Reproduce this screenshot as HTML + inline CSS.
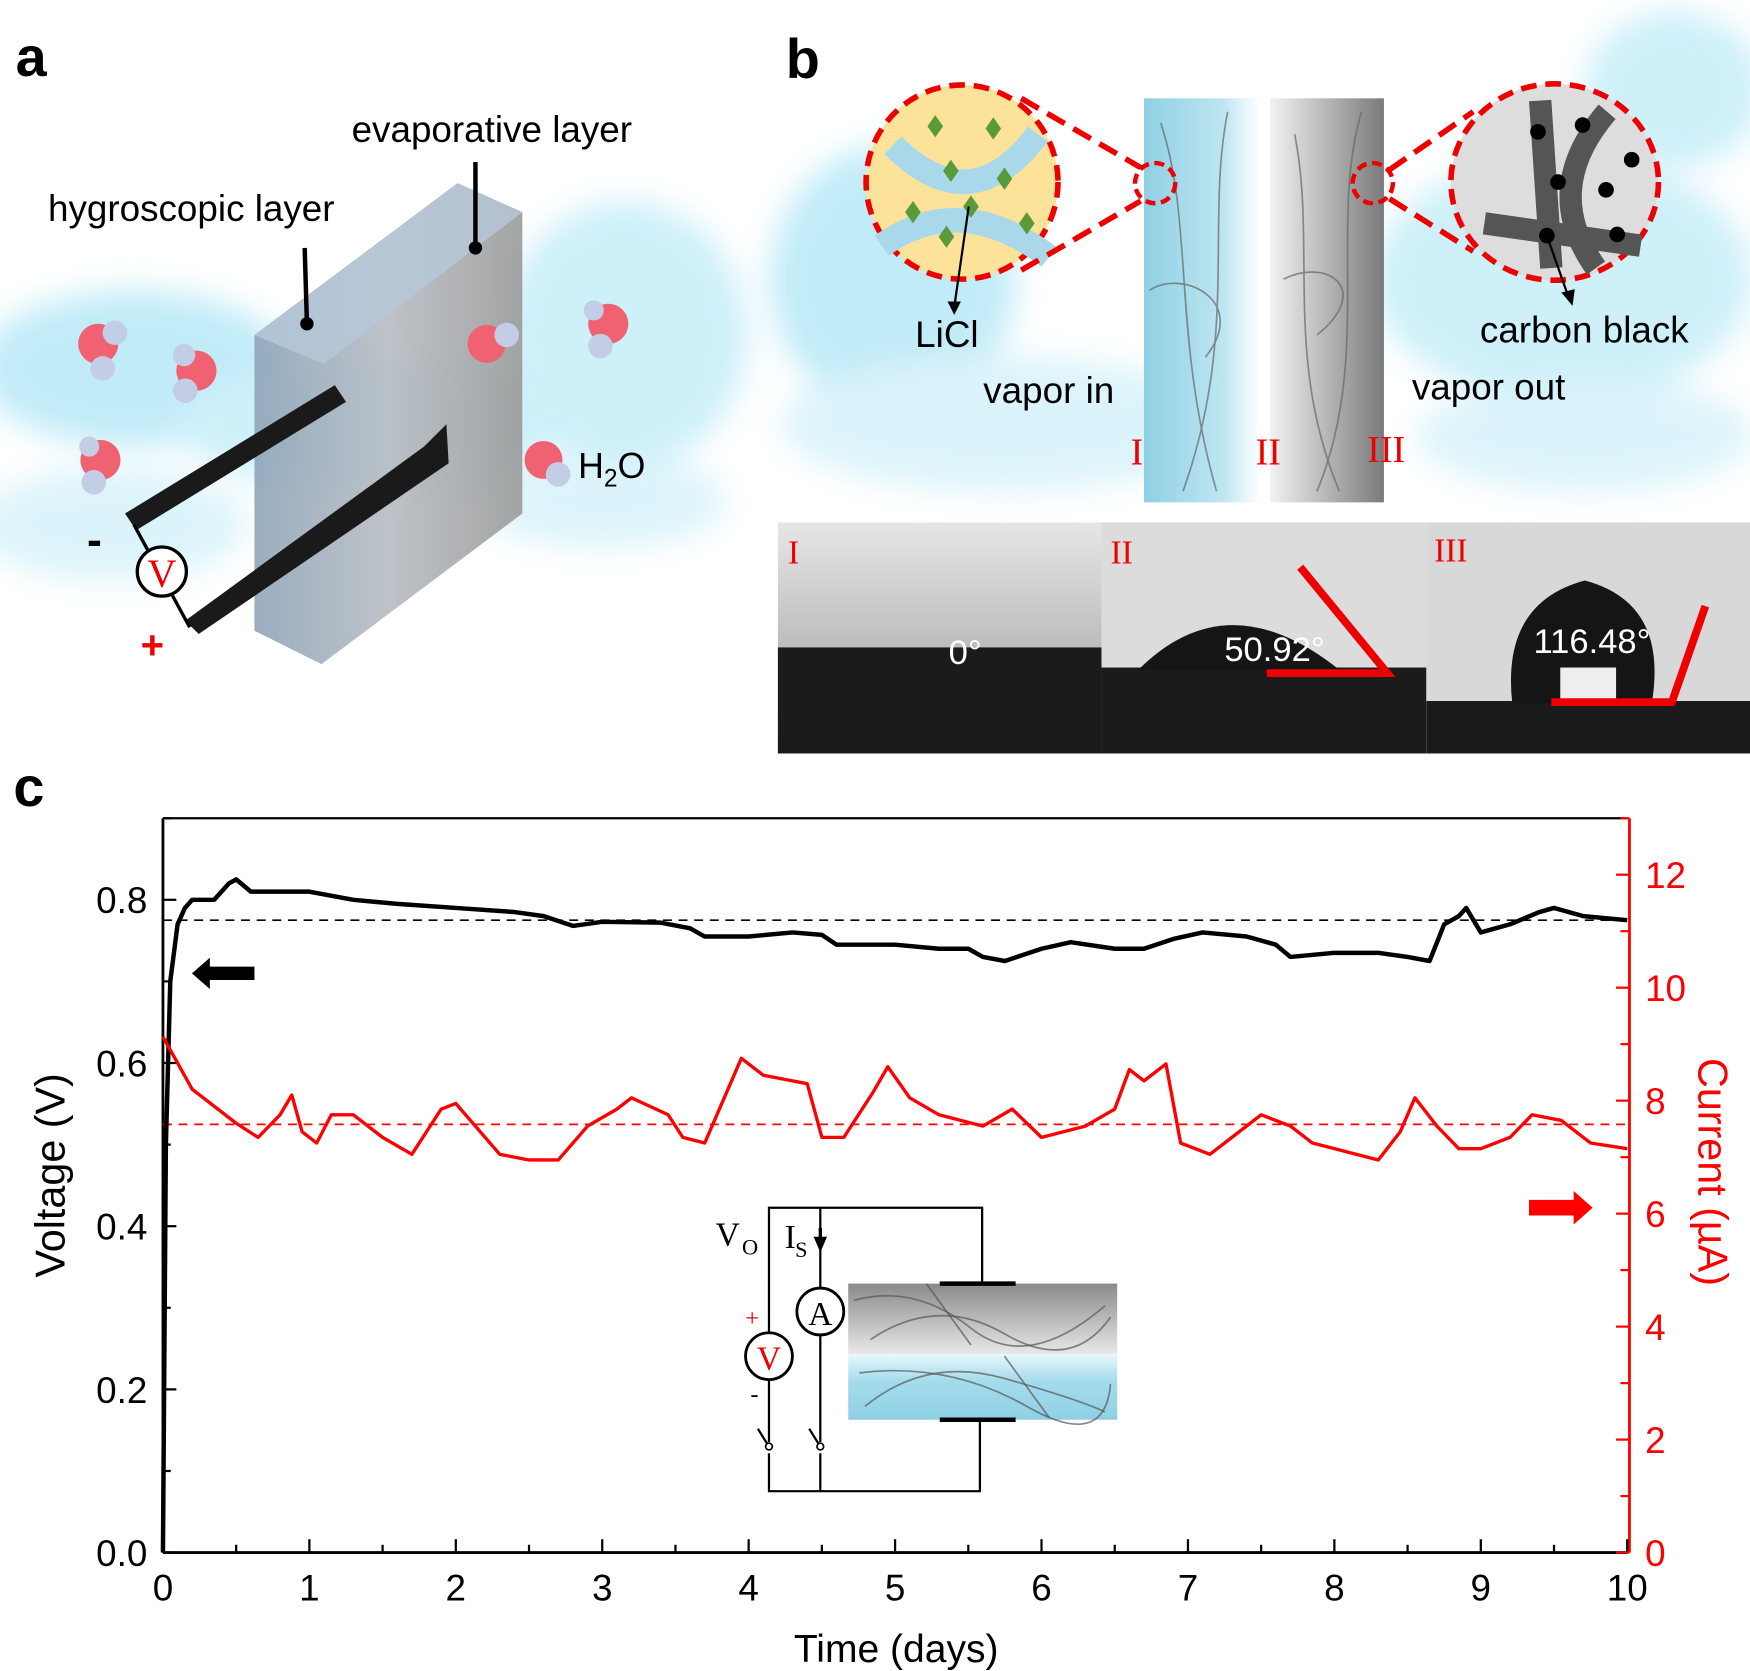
<!DOCTYPE html>
<html><head><meta charset="utf-8">
<style>
html,body{margin:0;padding:0;background:#fff;}
svg{display:block;font-family:"Liberation Sans",Arial,sans-serif;}
</style></head>
<body>
<svg id="fig" width="1750" height="1671" viewBox="0 0 1568 1497" xmlns="http://www.w3.org/2000/svg">
<defs>
  <filter id="blur" x="-20%" y="-50%" width="140%" height="200%"><feGaussianBlur stdDeviation="14"/></filter>
  <linearGradient id="slab" x1="0" x2="1" y1="0" y2="0"><stop offset="0" stop-color="#8fa4b8"/><stop offset="0.5" stop-color="#b7bcc2"/><stop offset="1" stop-color="#9a9a9a"/></linearGradient>
  <linearGradient id="blueL" x1="0" x2="1"><stop offset="0" stop-color="#8fd0e4"/><stop offset="0.7" stop-color="#bfe6f2"/><stop offset="1" stop-color="#ffffff"/></linearGradient>
  <linearGradient id="grayL" x1="0" x2="1"><stop offset="0" stop-color="#f2f2f2"/><stop offset="1" stop-color="#7a7a7a"/></linearGradient>
  <linearGradient id="photoTop" x1="0" x2="0" y1="0" y2="1"><stop offset="0" stop-color="#e6e6e6"/><stop offset="1" stop-color="#9a9a9a"/></linearGradient>
  <linearGradient id="insGray" x1="0" x2="0" y1="0" y2="1"><stop offset="0" stop-color="#8a8a8a"/><stop offset="1" stop-color="#e8e8e8"/></linearGradient>
  <linearGradient id="insBlue" x1="0" x2="0" y1="0" y2="1"><stop offset="0" stop-color="#eaf8fc"/><stop offset="0.4" stop-color="#a6dcec"/><stop offset="1" stop-color="#8ed0e6"/></linearGradient>
</defs>

<!-- Panel a -->
<g>
  <g filter="url(#blur)" opacity="0.55">
    <ellipse cx="120" cy="330" rx="140" ry="70" fill="#8fdcf2"/>
    <ellipse cx="330" cy="380" rx="170" ry="60" fill="#a5e4f5"/>
    <ellipse cx="560" cy="300" rx="110" ry="120" fill="#a5e4f5"/>
    <ellipse cx="100" cy="470" rx="120" ry="50" fill="#bfeaf7"/>
    <ellipse cx="540" cy="450" rx="110" ry="40" fill="#bfeaf7"/>
  </g>
  <text x="14" y="68" font-size="50" font-weight="bold">a</text>
  <polygon points="228,300 410,164 468,190 468,460 288,595 228,565" fill="url(#slab)" opacity="0.9"/>
  <polygon points="228,300 410,164 468,190 290,326" fill="#b6c8da" opacity="0.8"/>
  <polygon points="112,460 300,345 310,360 122,475" fill="#1a1a1a"/>
  <polygon points="166,556 380,400 400,380 402,415 178,568" fill="#1a1a1a"/>
  <line x1="120" y1="470" x2="170" y2="562" stroke="#000" stroke-width="3"/>
  <circle cx="145" cy="512" r="22" fill="#fff" stroke="#000" stroke-width="3"/>
  <text x="145" y="526" font-family="Liberation Serif,serif" font-size="36" fill="#e00" text-anchor="middle">V</text>
  <text x="78" y="497" font-size="40" font-weight="bold">-</text>
  <text x="126" y="590" font-size="36" font-weight="bold" fill="#e00">+</text>
  <line x1="273" y1="222" x2="275" y2="290" stroke="#000" stroke-width="4"/><circle cx="275" cy="290" r="6"/>
  <line x1="426" y1="145" x2="426" y2="222" stroke="#000" stroke-width="4"/><circle cx="426" cy="222" r="6"/>
  <text x="43" y="198" font-size="33">hygroscopic layer</text>
  <text x="315" y="127" font-size="33">evaporative layer</text>
  <g>
    <circle cx="88" cy="308" r="18" fill="#f06272"/><circle cx="103" cy="298" r="11" fill="#c3cde6"/><circle cx="92" cy="330" r="11" fill="#c3cde6"/>
    <circle cx="176" cy="332" r="18" fill="#f06272"/><circle cx="166" cy="350" r="11" fill="#c3cde6"/><circle cx="165" cy="318" r="10" fill="#c3cde6"/>
    <circle cx="90" cy="412" r="18" fill="#f06272"/><circle cx="84" cy="432" r="11" fill="#c3cde6"/><circle cx="80" cy="400" r="9" fill="#c3cde6"/>
    <circle cx="436" cy="308" r="17" fill="#f06272"/><circle cx="454" cy="300" r="11" fill="#c3cde6"/>
    <circle cx="545" cy="290" r="18" fill="#f06272"/><circle cx="538" cy="310" r="11" fill="#c3cde6"/><circle cx="532" cy="278" r="9" fill="#c3cde6"/>
    <circle cx="487" cy="412" r="17" fill="#f06272"/><circle cx="500" cy="425" r="11" fill="#c3cde6"/>
  </g>
  <text x="518" y="428" font-size="32">H<tspan font-size="22" dy="8">2</tspan><tspan dy="-8">O</tspan></text>
</g>

<!-- Panel b -->
<g>
  <g filter="url(#blur)" opacity="0.55">
    <ellipse cx="800" cy="250" rx="110" ry="120" fill="#8fdcf2"/>
    <ellipse cx="900" cy="380" rx="200" ry="60" fill="#bfeaf7"/>
    <ellipse cx="1400" cy="250" rx="170" ry="110" fill="#a5e4f5"/>
    <ellipse cx="1500" cy="80" rx="80" ry="70" fill="#a5e4f5"/>
    <ellipse cx="1420" cy="390" rx="150" ry="50" fill="#bfeaf7"/>
  </g>
  <text x="704" y="70" font-size="50" font-weight="bold">b</text>
  <rect x="1025" y="88" width="103" height="362" fill="url(#blueL)"/>
  <rect x="1138" y="88" width="102" height="362" fill="url(#grayL)"/>
  <g stroke="#666" stroke-width="1.5" fill="none" opacity="0.7">
    <path d="M1040,110 C1070,200 1050,300 1090,440"/><path d="M1100,100 C1080,200 1110,300 1060,440"/><path d="M1030,260 C1060,240 1120,270 1080,320"/>
    <path d="M1160,120 C1180,220 1150,320 1200,440"/><path d="M1220,100 C1190,200 1230,320 1180,440"/><path d="M1150,250 C1190,230 1230,260 1180,300"/>
  </g>
  <ellipse cx="862" cy="163" rx="86" ry="87" fill="#fde29a" stroke="#e00" stroke-width="5" stroke-dasharray="14,8"/>
  <path d="M800,130 Q870,200 930,120 M790,220 Q860,170 940,230" stroke="#a8d8ea" stroke-width="22" fill="none"/>
  <g fill="#5a9a3a"><path d="M838,103 l7,10 -7,10 -7,-10z"/><path d="M890,105 l7,10 -7,10 -7,-10z"/><path d="M852,143 l7,10 -7,10 -7,-10z"/><path d="M900,150 l7,10 -7,10 -7,-10z"/><path d="M818,180 l7,10 -7,10 -7,-10z"/><path d="M870,175 l7,10 -7,10 -7,-10z"/><path d="M920,190 l7,10 -7,10 -7,-10z"/><path d="M848,202 l7,10 -7,10 -7,-10z"/></g>
  <line x1="868" y1="185" x2="855" y2="275" stroke="#000" stroke-width="2"/><path d="M849,270 l6,12 6,-12z"/>
  <ellipse cx="1393" cy="163" rx="93" ry="88" fill="#ddd" stroke="#e00" stroke-width="5" stroke-dasharray="14,8"/>
  <path d="M1380,90 L1390,240 M1330,200 L1470,220 M1440,100 Q1380,170 1430,240" stroke="#555" stroke-width="20" fill="none"/>
  <g fill="#000"><circle cx="1378" cy="118" r="7"/><circle cx="1418" cy="112" r="7"/><circle cx="1462" cy="143" r="7"/><circle cx="1396" cy="163" r="7"/><circle cx="1439" cy="170" r="7"/><circle cx="1386" cy="211" r="7"/><circle cx="1449" cy="210" r="7"/></g>
  <line x1="1386" y1="211" x2="1405" y2="265" stroke="#000" stroke-width="2"/><path d="M1399,262 l10,12 2,-15z"/>
  <circle cx="1035" cy="164" r="18" fill="none" stroke="#e00" stroke-width="4" stroke-dasharray="9,5"/>
  <circle cx="1230" cy="164" r="18" fill="none" stroke="#e00" stroke-width="4" stroke-dasharray="9,5"/>
  <g stroke="#e00" stroke-width="5" stroke-dasharray="18,9"><line x1="915" y1="88" x2="1022" y2="150"/><line x1="915" y1="242" x2="1022" y2="180"/><line x1="1245" y1="152" x2="1320" y2="100"/><line x1="1245" y1="178" x2="1320" y2="225"/></g>
  <text x="820" y="311" font-size="33">LiCl</text>
  <text x="1326" y="307" font-size="33">carbon black</text>
  <text x="881" y="361" font-size="33">vapor in</text>
  <text x="1265" y="358" font-size="33">vapor out</text>
  <g font-family="Liberation Serif,serif" font-size="34" fill="#e00"><text x="1013" y="416">I</text><text x="1125" y="416">II</text><text x="1225" y="414">III</text></g>
  <!-- contact angle photos -->
  <g>
    <rect x="697" y="468" width="290" height="207" fill="url(#photoTop)"/><rect x="697" y="580" width="290" height="95" fill="#1b1b1b"/>
    <rect x="987" y="468" width="291" height="207" fill="#dcdcdc"/><rect x="987" y="598" width="291" height="77" fill="#1b1b1b"/>
    <path d="M1020,600 Q1100,520 1200,600z" fill="#151515"/>
    <rect x="1278" y="468" width="290" height="207" fill="#d8d8d8"/><rect x="1278" y="628" width="290" height="47" fill="#1b1b1b"/>
    <path d="M1355,630 Q1345,540 1420,520 Q1495,540 1480,630z" fill="#151515"/><rect x="1398" y="598" width="50" height="30" fill="#eee"/>
    <g stroke="#e00" stroke-width="7" fill="none"><polyline points="1165,508 1243,603 1135,603"/><polyline points="1390,629 1498,629 1528,543"/></g>
    <g font-family="Liberation Serif,serif" font-size="30" fill="#e00"><text x="706" y="505">I</text><text x="995" y="505">II</text><text x="1285" y="503">III</text></g>
    <g font-size="31" fill="#fff"><text x="850" y="595">0°</text><text x="1097" y="592">50.92°</text><text x="1374" y="585">116.48°</text></g>
  </g>
</g>

<!-- Panel c -->
<text x="12" y="722" font-size="50" font-weight="bold">c</text>
<g id="chart"></g>
</svg>
<script>
const voltT=[0,0.02,0.05,0.1,0.15,0.2,0.35,0.45,0.5,0.6,0.8,1.0,1.3,1.6,2.0,2.4,2.6,2.8,3.0,3.4,3.6,3.7,4.0,4.3,4.5,4.6,5.0,5.3,5.5,5.6,5.75,6.0,6.2,6.5,6.7,6.9,7.1,7.4,7.6,7.7,8.0,8.3,8.5,8.65,8.75,8.85,8.9,9.0,9.2,9.4,9.5,9.7,10];
const voltV=[0,0.5,0.7,0.77,0.79,0.8,0.8,0.82,0.825,0.81,0.81,0.81,0.8,0.795,0.79,0.785,0.78,0.768,0.773,0.772,0.765,0.755,0.755,0.76,0.757,0.745,0.745,0.74,0.74,0.73,0.725,0.74,0.748,0.74,0.74,0.752,0.76,0.755,0.745,0.73,0.735,0.735,0.73,0.725,0.77,0.78,0.79,0.76,0.77,0.785,0.79,0.78,0.775];
const curT=[0,0.2,0.5,0.65,0.8,0.88,0.95,1.05,1.15,1.3,1.5,1.7,1.9,2.0,2.1,2.3,2.5,2.7,2.9,3.1,3.2,3.45,3.55,3.7,3.85,3.95,4.1,4.3,4.4,4.5,4.65,4.85,4.95,5.1,5.3,5.6,5.8,6.0,6.3,6.5,6.6,6.7,6.85,6.95,7.15,7.3,7.5,7.7,7.85,8.0,8.3,8.45,8.55,8.7,8.85,9.0,9.2,9.35,9.55,9.75,10];
const curI=[9.13,8.2,7.6,7.35,7.75,8.1,7.45,7.25,7.75,7.75,7.35,7.05,7.85,7.95,7.65,7.05,6.95,6.95,7.55,7.85,8.05,7.75,7.35,7.25,8.15,8.75,8.45,8.35,8.3,7.35,7.35,8.15,8.6,8.05,7.75,7.55,7.85,7.35,7.55,7.85,8.55,8.35,8.65,7.25,7.05,7.35,7.75,7.55,7.25,7.15,6.95,7.45,8.05,7.55,7.15,7.15,7.35,7.75,7.65,7.25,7.15];
const voltAvg=[0.775];
const curAvg=[7.58];
const xTicks=[0,1,2,3,4,5,6,7,8,9,10];
const yLeftTicks=["0.0","0.2","0.4","0.6","0.8"];
const yRightTicks=[0,2,4,6,8,10,12];

const NS="http://www.w3.org/2000/svg";
const g=document.getElementById('chart');
const L=146,R=1458,T=733,B=1391;
const xs=t=>L+(t/10)*(R-L);
const yl=v=>B-(v/0.9)*(B-T);
const yr=v=>B-(v/13)*(B-T);
function mk(tag,attrs,parent){const e=document.createElementNS(NS,tag);for(const k in attrs)e.setAttribute(k,attrs[k]);(parent||g).appendChild(e);return e;}

let e;
e=mk('line',{x1:L,y1:T,x2:R,y2:T,stroke:'#000','stroke-width':2});


e=mk('line',{x1:L,y1:T,x2:L,y2:B,stroke:'#000','stroke-width':2.5});


e=mk('line',{x1:L,y1:B,x2:R,y2:B,stroke:'#000','stroke-width':2.5});


e=mk('line',{x1:R+2,y1:T,x2:R+2,y2:B,stroke:'#f00','stroke-width':2.5});



for(let i=0;i<xTicks.length;i++){
  const x=xs(xTicks[i]);
  mk('line',{x1:x,y1:B,x2:x,y2:B-12,stroke:'#000','stroke-width':2});
  if(i<xTicks.length-1){const xm=xs(xTicks[i]+0.5);mk('line',{x1:xm,y1:B,x2:xm,y2:B-7,stroke:'#000','stroke-width':2});}
  e=mk('text',{x:x,y:B+43,'font-size':33,'text-anchor':'middle'});
  e.textContent=xTicks[i];
  
  
}
for(let i=0;i<yLeftTicks.length;i++){
  const v=parseFloat(yLeftTicks[i]),y=yl(v);
  mk('line',{x1:L,y1:y,x2:L+12,y2:y,stroke:'#000','stroke-width':2});
  const ym=yl(v+0.1);mk('line',{x1:L,y1:ym,x2:L+7,y2:ym,stroke:'#000','stroke-width':2});
  e=mk('text',{x:L-14,y:y+12,'font-size':33,'text-anchor':'end'});
  e.textContent=yLeftTicks[i];
  
  
}
for(let i=0;i<yRightTicks.length;i++){
  const v=yRightTicks[i],y=yr(v);
  mk('line',{x1:R+2,y1:y,x2:R-10,y2:y,stroke:'#f00','stroke-width':2});
  const ym=yr(v+1);mk('line',{x1:R+2,y1:ym,x2:R-6,y2:ym,stroke:'#f00','stroke-width':2});
  e=mk('text',{x:R+16,y:y+12,'font-size':33,fill:'#f00'});
  e.textContent=v;
  
  
}
e=mk('text',{x:803,y:1489,'font-size':35,'text-anchor':'middle'});
e.textContent='Time (days)';


e=mk('text',{x:0,y:0,'font-size':37,'text-anchor':'middle',transform:'translate(58,1053) rotate(-90)'});
e.textContent='Voltage (V)';


e=mk('text',{x:0,y:0,'font-size':37,'text-anchor':'middle',fill:'#f00',transform:'translate(1522,1050) rotate(90)'});
e.textContent='Current (µA)';



e=mk('line',{x1:L,y1:yl(voltAvg[0]),x2:R,y2:yl(voltAvg[0]),stroke:'#000','stroke-width':1.5,'stroke-dasharray':'8,6'});


e=mk('line',{x1:L,y1:yr(curAvg[0]),x2:R,y2:yr(curAvg[0]),stroke:'#f00','stroke-width':1.5,'stroke-dasharray':'8,6'});



e=mk('polyline',{points:voltT.map((t,i)=>xs(t)+','+yl(voltV[i])).join(' '),fill:'none',stroke:'#000','stroke-width':4,'stroke-linejoin':'round'});


e=mk('polyline',{points:curT.map((t,i)=>xs(t)+','+yr(curI[i])).join(' '),fill:'none',stroke:'#f00','stroke-width':3,'stroke-linejoin':'round'});



e=mk('polygon',{points:'172,872 188,858 188,866 228,866 228,878 188,878 188,886',fill:'#000'});


e=mk('polygon',{points:'1427,1082 1410,1067 1410,1075 1370,1075 1370,1089 1410,1089 1410,1097',fill:'#f00'});



const ins=mk('g',{});


mk('rect',{x:760,y:1150,width:241,height:63,fill:'url(#insGray)'},ins);
mk('rect',{x:760,y:1213,width:241,height:59,fill:'url(#insBlue)'},ins);
const paths=['M765,1165 Q820,1150 870,1190 T990,1170','M780,1200 Q840,1160 900,1195 T995,1180','M770,1230 Q850,1220 920,1260 T995,1240','M775,1260 Q830,1215 900,1235 T990,1265','M830,1150 L870,1205','M900,1215 L940,1270'];
paths.forEach(d=>mk('path',{d:d,stroke:'#555','stroke-width':1.5,fill:'none',opacity:0.7},ins));
mk('polyline',{points:'689,1140 689,1082 880,1082 880,1150',fill:'none',stroke:'#000','stroke-width':2},ins);
mk('polyline',{points:'878,1272 878,1336 689,1336 689,1302',fill:'none',stroke:'#000','stroke-width':2},ins);
mk('line',{x1:735,y1:1082,x2:735,y2:1155,stroke:'#000','stroke-width':2},ins);
mk('line',{x1:735,y1:1195,x2:735,y2:1292,stroke:'#000','stroke-width':2},ins);
mk('line',{x1:735,y1:1302,x2:735,y2:1336,stroke:'#000','stroke-width':2},ins);
mk('line',{x1:689,y1:1140,x2:689,y2:1193,stroke:'#000','stroke-width':2},ins);
mk('line',{x1:689,y1:1237,x2:689,y2:1292,stroke:'#000','stroke-width':2},ins);
mk('line',{x1:679,y1:1280,x2:689,y2:1296,stroke:'#000','stroke-width':2},ins);
mk('line',{x1:725,y1:1280,x2:735,y2:1296,stroke:'#000','stroke-width':2},ins);
mk('circle',{cx:689,cy:1296,r:3,fill:'#fff',stroke:'#000','stroke-width':1.5},ins);
mk('circle',{cx:735,cy:1296,r:3,fill:'#fff',stroke:'#000','stroke-width':1.5},ins);
mk('line',{x1:842,y1:1150,x2:910,y2:1150,stroke:'#000','stroke-width':4},ins);
mk('line',{x1:842,y1:1272,x2:910,y2:1272,stroke:'#000','stroke-width':4},ins);
mk('circle',{cx:735,cy:1175,r:21,fill:'#fff',stroke:'#000','stroke-width':2.5},ins);
mk('circle',{cx:689,cy:1215,r:21,fill:'#fff',stroke:'#000','stroke-width':2.5},ins);
mk('polygon',{points:'729,1108 741,1108 735,1122',fill:'#000'},ins);
mk('line',{x1:735,y1:1100,x2:735,y2:1112,stroke:'#000','stroke-width':3},ins);
const tx=(x,y,s,c,t,fs)=>{const el=mk('text',{x:x,y:y,'font-family':'Liberation Serif,serif','font-size':fs,fill:c,'text-anchor':'middle'},ins);el.textContent=t;return el;};
tx(735,1187,'','#000','A',30);
tx(689,1227,'','#e00','V',30);
tx(652,1116,'','#000','V',30);
tx(672,1124,'','#000','O',20);
tx(708,1118,'','#000','I',30);
tx(718,1126,'','#000','S',20);
tx(674,1188,'','#e00','+',22);
tx(676,1256,'','#000','-',22);
</script>
</body></html>
